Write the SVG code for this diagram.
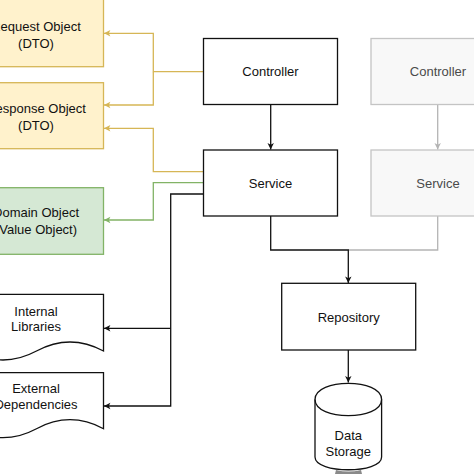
<svg xmlns="http://www.w3.org/2000/svg" width="474" height="474" viewBox="0 0 474 474">
<style>
  text { font-family: "Liberation Sans", Arial, Helvetica, sans-serif; font-size: 13px; fill: #111; text-anchor: middle; }
  .box { fill: #ffffff; stroke: #111; stroke-width: 1.3; }
  .ghost { fill: #f8f8f8; stroke: #c4c4c4; stroke-width: 1.3; }
  .ghost-t { fill: #4a4a4a; }
  .dto { fill: #fff2cc; stroke: #d6b656; stroke-width: 1.3; }
  .dom { fill: #d5e8d4; stroke: #82b366; stroke-width: 1.3; }
  .c { fill: none; stroke-width: 1.3; }
  .k { stroke: #111; }
  .y { stroke: #d6b656; }
  .g { stroke: #82b366; }
  .s { stroke: #b4b4b4; }
</style>
<defs>
  <marker id="ak" viewBox="0 0 10 10" refX="9" refY="5" markerWidth="8" markerHeight="8" markerUnits="userSpaceOnUse" orient="auto">
    <path d="M1,1 L9,5 L1,9 L3,5 Z" fill="#111"/>
  </marker>
  <marker id="ay" viewBox="0 0 10 10" refX="9" refY="5" markerWidth="8" markerHeight="8" markerUnits="userSpaceOnUse" orient="auto">
    <path d="M1,1 L9,5 L1,9 L3,5 Z" fill="#d6b656"/>
  </marker>
  <marker id="ag" viewBox="0 0 10 10" refX="9" refY="5" markerWidth="8" markerHeight="8" markerUnits="userSpaceOnUse" orient="auto">
    <path d="M1,1 L9,5 L1,9 L3,5 Z" fill="#82b366"/>
  </marker>
  <marker id="as" viewBox="0 0 10 10" refX="9" refY="5" markerWidth="8" markerHeight="8" markerUnits="userSpaceOnUse" orient="auto">
    <path d="M1,1 L9,5 L1,9 L3,5 Z" fill="#b4b4b4"/>
  </marker>
</defs>

<g id="connectors">
  <path class="c y" d="M203.5,71.7 H153.3 V33.3 H104" marker-end="url(#ay)"/>
  <path class="c y" d="M153.3,71.7 V105 H104" marker-end="url(#ay)"/>
  <path class="c y" d="M203.5,171.7 H153.3 V128.3 H104" marker-end="url(#ay)"/>
  <path class="c g" d="M203.5,182.7 H153.3 V220 H104" marker-end="url(#ag)"/>
  <path class="c k" d="M203.5,194 H170.7 V406 H104" marker-end="url(#ak)"/>
  <path class="c k" d="M170.7,328.3 H104" marker-end="url(#ak)"/>
  <path class="c k" d="M270.7,104.5 V149.5" marker-end="url(#ak)"/>
  <path class="c s" d="M437.7,216 V250 H348.3"/>
  <path class="c s" d="M437.7,104.5 V149.5" marker-end="url(#as)"/>
  <path class="c k" d="M270.7,216 V250 H348.3 V283" marker-end="url(#ak)"/>
  <path class="c k" d="M348.3,350 V382.5" marker-end="url(#ak)"/>
</g>

<g id="request">
  <rect class="dto" x="-30.5" y="-1" width="134" height="67.7"/>
  <text x="36" y="30.7">Request Object</text>
  <text x="36" y="47.7">(DTO)</text>
</g>
<g id="response">
  <rect class="dto" x="-30.5" y="82.7" width="134" height="66"/>
  <text x="36" y="112.7">Response Object</text>
  <text x="36" y="129.7">(DTO)</text>
</g>
<g id="domain">
  <rect class="dom" x="-30.5" y="187.7" width="134" height="66.6"/>
  <text x="36" y="217.4">Domain Object</text>
  <text x="36" y="234">(Value Object)</text>
</g>
<g id="internal">
  <path class="box" d="M-30.5,294.3 H103.5 V351 Q70,333 36.5,351 Q3,369 -30.5,351 Z"/>
  <text x="36" y="316">Internal</text>
  <text x="36" y="331">Libraries</text>
</g>
<g id="external">
  <path class="box" d="M-30.5,372.7 H103.5 V428.7 Q70,410.7 36.5,428.7 Q3,446.7 -30.5,428.7 Z"/>
  <text x="36" y="393">External</text>
  <text x="36" y="409">Dependencies</text>
</g>
<g id="controller">
  <rect class="box" x="203.5" y="38.5" width="134" height="66"/>
  <text x="270.5" y="76.4">Controller</text>
</g>
<g id="service">
  <rect class="box" x="203.5" y="150" width="134" height="66"/>
  <text x="270.5" y="188">Service</text>
</g>
<g id="controller2">
  <rect class="ghost" x="371" y="38.5" width="134" height="66"/>
  <text class="ghost-t" x="438" y="76.4">Controller</text>
</g>
<g id="service2">
  <rect class="ghost" x="371" y="150" width="134" height="66"/>
  <text class="ghost-t" x="438" y="188">Service</text>
</g>
<g id="repository">
  <rect class="box" x="281.7" y="283.3" width="134" height="66.7"/>
  <text x="348.7" y="322">Repository</text>
</g>
<g id="datastorage">
  <path d="M336,470 Q348.3,473 361,470 L362,474 H335 Z" fill="#8a8a8a"/>
  <path class="box" d="M315,399.5 C315,378 381.6,378 381.6,399.5 V457 C381.6,474 315,474 315,457 Z"/>
  <path class="c k" d="M315,399.5 C315,421 381.6,421 381.6,399.5"/>
  <text x="348.3" y="439.7">Data</text>
  <text x="348.3" y="456.4">Storage</text>
</g>
</svg>
